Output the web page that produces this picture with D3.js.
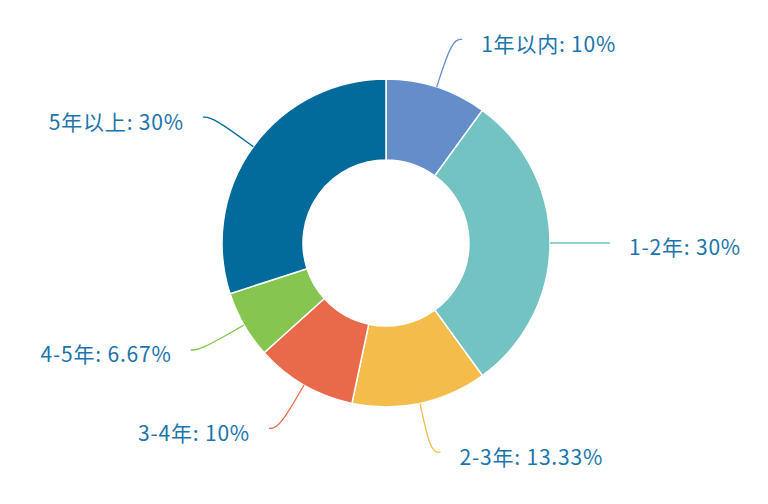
<!DOCTYPE html>
<html>
<head>
<meta charset="utf-8">
<script src="https://cdn.jsdelivr.net/npm/d3@7"></script>
<style>
  body { margin: 0; background: #fff; }
  svg { display: block; }
  .label { font-family: "Noto Sans CJK SC", "Noto Sans", sans-serif; font-size: 21px; letter-spacing: 0.8px; fill: #1a74ad; }
</style>
</head>
<body>
<div id="chart"></div>
<script>
// données
const categories = ["1年以内", "1-2年", "2-3年", "3-4年", "4-5年", "5年以上"];
const values = [3, 9, 4, 3, 2, 9];
const colors = ["#658dca", "#74c3c3", "#f4bd4b", "#e9694b", "#86c650", "#036b9c"];

const width = 768, height = 504;
const cx = 386, cy = 243;
const outerR = 164, innerR = 83;
const len1 = 50, len2 = 10, gap = 19;

const total = d3.sum(values);
const data = categories.map((c, i) => ({ name: c, value: values[i], color: colors[i] }));

const svg = d3.select("#chart").append("svg")
    .attr("width", width)
    .attr("height", height);

const g = svg.append("g").attr("transform", `translate(${cx},${cy})`);

const pie = d3.pie().value(d => d.value).sort(null);
const arc = d3.arc().innerRadius(innerR).outerRadius(outerR);
const arcs = pie(data);

g.selectAll("path.slice")
    .data(arcs)
    .enter().append("path")
    .attr("class", "slice")
    .attr("d", arc)
    .attr("fill", d => d.data.color)
    .attr("stroke", "#fff")
    .attr("stroke-width", 1.5);

// points des lignes de label
function linePoints(d) {
    const a = (d.startAngle + d.endAngle) / 2;
    const p0 = [outerR * Math.sin(a), -outerR * Math.cos(a)];
    const r1 = outerR + len1;
    const p1 = [r1 * Math.sin(a), -r1 * Math.cos(a)];
    const side = Math.sin(a) >= 0 ? 1 : -1;
    const p2 = [p1[0] + side * len2, p1[1]];
    return { p0, p1, p2, side };
}

const line = d3.line().curve(d3.curveBasis);

g.selectAll("path.label-line")
    .data(arcs)
    .enter().append("path")
    .attr("class", "label-line")
    .attr("d", d => {
        const p = linePoints(d);
        return line([p.p0, p.p1, p.p2]);
    })
    .attr("fill", "none")
    .attr("stroke", d => d.data.color)
    .attr("stroke-width", 1.3);

const fmt = v => (Math.round(v / total * 10000) / 100) + "%";

g.selectAll("text.label")
    .data(arcs)
    .enter().append("text")
    .attr("class", "label")
    .attr("x", d => { const p = linePoints(d); return p.p2[0] + p.side * gap; })
    .attr("y", d => linePoints(d).p2[1] + 5)
    .attr("dy", "0.35em")
    .attr("text-anchor", d => linePoints(d).side > 0 ? "start" : "end")
    .text(d => `${d.data.name}: ${fmt(d.data.value)}`);
</script>
</body>
</html>
